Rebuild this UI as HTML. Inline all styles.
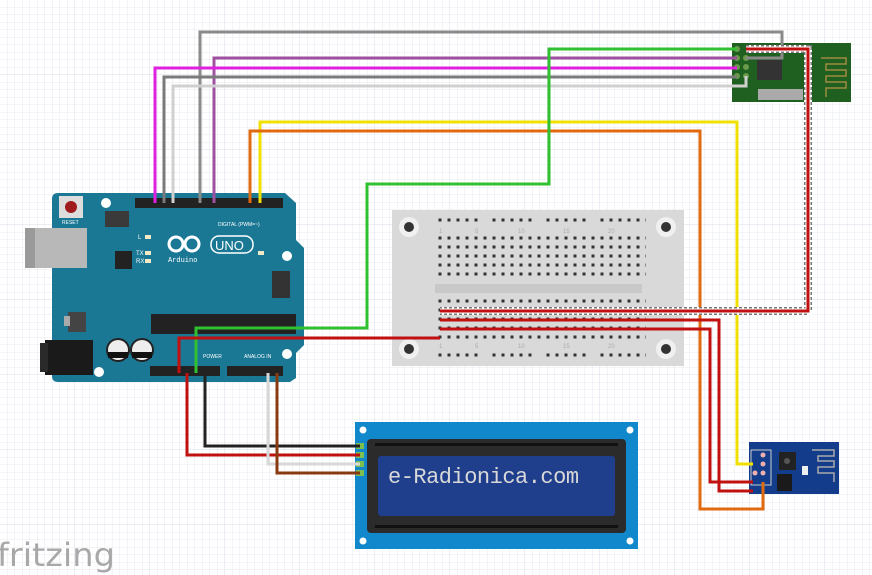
<!DOCTYPE html>
<html><head><meta charset="utf-8"><style>
html,body{margin:0;padding:0;background:#fff;}
svg{display:block;}
</style></head><body>
<svg width="872" height="575" viewBox="0 0 872 575" xmlns="http://www.w3.org/2000/svg" font-family="Liberation Sans, sans-serif">
<defs>
<pattern id="g" width="7.5" height="7.5" patternUnits="userSpaceOnUse">
<path d="M7.5 0V7.5M0 7.5H7.5" stroke="#e6eaf2" stroke-width="1" fill="none"/>
</pattern>
<pattern id="g2" width="75" height="75" patternUnits="userSpaceOnUse">
<path d="M75 0V75M0 75H75" stroke="#d8dde8" stroke-width="1" fill="none"/>
</pattern>
<pattern id="holes" x="436" y="0" width="9" height="9" patternUnits="userSpaceOnUse">
<rect x="2.5" y="2.5" width="3" height="3" fill="#333"/>
</pattern>
</defs>
<rect width="872" height="575" fill="#fff"/>
<rect width="872" height="575" fill="url(#g)"/>
<rect width="872" height="575" fill="url(#g2)"/>

<!-- fritzing logo -->
<text x="-3" y="566" font-size="32" fill="#a8a8a8" font-family="DejaVu Sans, sans-serif" textLength="118" lengthAdjust="spacingAndGlyphs">fritzing</text>

<!-- Breadboard -->
<rect x="392" y="210" width="292" height="156" fill="#d9d9d9"/>
<g fill="#f0f0f0"><circle cx="409" cy="227" r="10"/><circle cx="666" cy="227" r="10"/><circle cx="409" cy="349" r="10"/><circle cx="666" cy="349" r="10"/></g>
<g fill="#333"><circle cx="409" cy="227" r="5"/><circle cx="666" cy="227" r="5"/><circle cx="409" cy="349" r="5"/><circle cx="666" cy="349" r="5"/></g>
<rect x="438" y="234" width="208" height="45" fill="url(#holes)"/>
<rect x="438" y="297" width="208" height="45" fill="url(#holes)"/>
<rect x="438" y="216" width="208" height="9" fill="url(#holes)"/>
<rect x="438" y="351" width="208" height="9" fill="url(#holes)"/>
<g fill="#d9d9d9"><rect x="482" y="214" width="8" height="12"/><rect x="536" y="214" width="8" height="12"/><rect x="590" y="214" width="8" height="12"/><rect x="482" y="350" width="8" height="12"/><rect x="536" y="350" width="8" height="12"/><rect x="590" y="350" width="8" height="12"/></g>
<rect x="435" y="284" width="207" height="9" fill="#c8c8c8"/>
<g font-size="6" fill="#aaa"><text x="439" y="233">1</text><text x="475" y="233">5</text><text x="518" y="233">10</text><text x="563" y="233">15</text><text x="608" y="233">20</text>
<text x="439" y="348">1</text><text x="475" y="348">5</text><text x="518" y="348">10</text><text x="563" y="348">15</text><text x="608" y="348">20</text></g>

<!-- Arduino -->
<path d="M58 193 H285 L296 203 V240 L304 248 V345 L296 353 V378 L290 382 H58 Q52 382 52 376 V199 Q52 193 58 193Z" fill="#1b7895"/>
<rect x="25" y="228" width="62" height="40" fill="#b8b8b8"/><rect x="25" y="228" width="10" height="40" fill="#9a9a9a"/>
<rect x="45" y="340" width="48" height="35" fill="#1a1a1a"/><rect x="40" y="343" width="8" height="29" fill="#2a2a2a"/>
<rect x="59" y="196" width="24" height="22" fill="#ddd"/><circle cx="71" cy="207" r="6" fill="#a01c1c"/>
<text x="62" y="224" font-size="5" fill="#fff">RESET</text>
<circle cx="106" cy="203" r="5" fill="#fff"/><circle cx="287" cy="256" r="5" fill="#fff"/><circle cx="287" cy="354" r="5" fill="#fff"/><circle cx="99" cy="372" r="5" fill="#fff"/>
<rect x="115" y="251" width="17" height="18" fill="#222"/>
<rect x="68" y="312" width="18" height="20" fill="#444"/><rect x="64" y="316" width="6" height="10" fill="#aaa"/>
<rect x="151" y="314" width="145" height="20" fill="#222"/>
<circle cx="118" cy="350" r="12" fill="#222"/><circle cx="118" cy="350" r="10" fill="#eee"/><rect x="108" y="352" width="20" height="6" fill="#111"/>
<circle cx="142" cy="350" r="12" fill="#222"/><circle cx="142" cy="350" r="10" fill="#eee"/><rect x="132" y="352" width="20" height="6" fill="#111"/>
<rect x="105" y="211" width="24" height="16" fill="#3a3a3a"/>
<rect x="135" y="198" width="92" height="10" fill="#222"/>
<rect x="211" y="198" width="72" height="10" fill="#222"/>
<rect x="150" y="366" width="70" height="10" fill="#222"/>
<rect x="227" y="366" width="56" height="10" fill="#222"/>
<rect x="272" y="271" width="18" height="27" fill="#333"/>
<text x="218" y="226" font-size="5" fill="#fff">DIGITAL (PWM=~)</text>
<text x="244" y="358" font-size="5" fill="#fff">ANALOG IN</text>
<text x="203" y="358" font-size="5" fill="#fff">POWER</text>
<g fill="none" stroke="#fff" stroke-width="3"><circle cx="176" cy="244" r="7"/><circle cx="192" cy="244" r="7"/></g>
<rect x="211" y="236" width="42" height="17" rx="8" fill="none" stroke="#fff" stroke-width="1.5"/>
<text x="215" y="250" font-size="13" fill="#fff">UNO</text>
<text x="168" y="262" font-size="7" fill="#fff" font-family="Liberation Mono, monospace">Arduino</text>
<text x="138" y="239" font-size="6" fill="#fff">L</text><text x="136" y="255" font-size="6" fill="#fff">TX</text><text x="136" y="263" font-size="6" fill="#fff">RX</text>
<g fill="#f3e9c8"><rect x="145" y="235" width="6" height="4"/><rect x="145" y="251" width="6" height="4"/><rect x="145" y="259" width="6" height="4"/><rect x="258" y="251" width="6" height="4"/></g>

<!-- NRF module -->
<rect x="732" y="43" width="119" height="59" fill="#1f5f1f"/>
<rect x="757" y="60" width="25" height="20" fill="#333"/>
<rect x="758" y="89" width="45" height="11" fill="#aaa"/>
<path d="M821 58 H846 V64 H826 V70 H846 V76 H826 V82 H846 V88 H826 V97" fill="none" stroke="#a08a40" stroke-width="1.5"/>
<g fill="#6b9a4a"><circle cx="737" cy="49" r="3"/><circle cx="737" cy="58" r="3"/><circle cx="737" cy="67" r="3"/><circle cx="737" cy="76" r="3"/><circle cx="746" cy="58" r="3"/><circle cx="746" cy="67" r="3"/><circle cx="746" cy="76" r="3"/></g>

<!-- ESP -->
<rect x="749" y="442" width="90" height="52" fill="#133d8a"/>
<rect x="751" y="450" width="20" height="35" fill="none" stroke="#ccc" stroke-width="1"/>
<rect x="779" y="452" width="17" height="18" fill="#222"/><circle cx="787" cy="461" r="3" fill="#555"/>
<rect x="777" y="474" width="15" height="17" fill="#1a1a1a"/>
<path d="M812 450 H834 V456 H818 V461 H834 V467 H818 V473 H834 V482" fill="none" stroke="#aaa" stroke-width="1.5"/>
<rect x="802" y="466" width="6" height="9" fill="#eee"/>
<g fill="#f0b0b0"><circle cx="763" cy="455" r="2.5"/><circle cx="763" cy="464" r="2.5"/><circle cx="763" cy="473" r="2.5"/><circle cx="755" cy="473" r="2.5"/></g>

<!-- LCD -->
<rect x="355" y="422" width="283" height="127" fill="#1288cc"/>
<g fill="#fff"><circle cx="363" cy="430" r="3.5"/><circle cx="630" cy="430" r="3.5"/><circle cx="363" cy="541" r="3.5"/><circle cx="630" cy="541" r="3.5"/></g>
<rect x="367" y="439" width="259" height="94" rx="4" fill="#2b2b2b"/>
<rect x="375" y="443" width="243" height="3" fill="#111"/><rect x="375" y="525" width="243" height="3" fill="#111"/>
<rect x="378" y="456" width="237" height="60" rx="3" fill="#1f3f8c"/>
<text x="388" y="483" font-size="22" fill="#d8d8d8" font-family="Liberation Mono, monospace" letter-spacing="-0.5">e-Radionica.com</text>
<g fill="#7ec050"><rect x="356" y="443" width="8" height="6"/><rect x="356" y="452" width="8" height="6"/><rect x="356" y="461" width="8" height="6"/><rect x="356" y="470" width="8" height="6"/></g>

<!-- Wires -->
<g fill="none" stroke-linejoin="miter" stroke-width="3">
<path d="M200 203 V32 H782 V58 H746" stroke="#8a8a8a"/>
<path d="M214 203 V58 H737" stroke="#a050a0"/>
<path d="M155 203 V68 H737" stroke="#e020e0"/>
<path d="M164 203 V77 H737" stroke="#7a7a7a"/>
<path d="M173 203 V86 H746 V76" stroke="#d0d0d0"/>
<path d="M260 203 V122 H737 V464 H753" stroke="#f0e000"/>
<path d="M250 203 V131 H700 V509 H763 V482" stroke="#e06a10"/>
<path d="M737 49 H549 V184 H367 V328 H196 V373" stroke="#30c030"/>
<path d="M179 373 V338 H440" stroke="#c01010"/>
<path d="M440 320 H719 V491 H753" stroke="#c01010"/>
<path d="M440 329 H710 V482 H753" stroke="#c01010"/>
<path d="M746 49 H808 V311 H440" stroke="#fff" stroke-width="8"/>
<path d="M746 49 H808 V311 H440" stroke="#777" stroke-width="8" stroke-dasharray="3,2"/>
<path d="M746 49 H808 V311 H440" stroke="#fff" stroke-width="5"/>
<path d="M746 49 H808 V311 H440" stroke="#c01010"/>
<path d="M205 373 V446 H360" stroke="#222"/>
<path d="M187 373 V455 H360" stroke="#c01010"/>
<path d="M268 373 V464 H360" stroke="#d8d8d8"/>
<path d="M277 373 V473 H360" stroke="#8a3a10"/>
</g>
</svg>
</body></html>
